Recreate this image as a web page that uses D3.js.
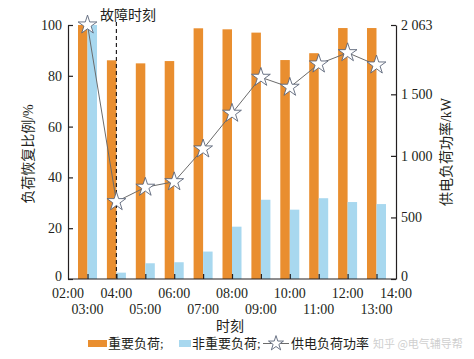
<!DOCTYPE html>
<html><head><meta charset="utf-8">
<script src="https://cdn.jsdelivr.net/npm/d3@7"></script>
<style>
html,body{margin:0;padding:0;background:#fff;}
text{font-family:"Liberation Serif","Noto Sans CJK SC",serif;fill:#231f20;}
</style></head>
<body><svg id="c" width="474" height="359"></svg>
<script>
const categories = ["03:00","04:00","05:00","06:00","07:00","08:00","09:00","10:00","11:00","12:00","13:00"];
const importantPct = [100, 86.1, 84.9, 85.8, 98.7, 98.3, 97.0, 86.2, 88.9, 98.8, 98.8];
const nonImportantPct = [100, 2.5, 6.2, 6.6, 10.8, 20.6, 31.2, 27.3, 31.8, 30.3, 29.5];
const supplyPower = [2063, 628, 745, 790, 1056, 1346, 1638, 1557, 1746, 1838, 1738];
const edgeLabels = ["02:00", "14:00"];
const leftTicks = [0, 20, 40, 60, 80, 100];
const rightTicks = [0, 500, 1000, 1500, 2063];
const faultCategory = "04:00";

const svg = d3.select("#c");
const L = 68, R = 396, T = 25, B = 279;
const x = d3.scalePoint().domain(categories).range([L, R]).padding(0.675);
const yL = d3.scaleLinear().domain([0, 100]).range([B, T]);
const yR = d3.scaleLinear().domain([0, 2063]).range([B, T]);
const bw = 9.5;
const orange = "#E98E2F", blue = "#A8D8EF";

// bars
svg.append("g").selectAll("rect").data(categories).join("rect")
  .attr("x", d => x(d) - bw).attr("width", bw)
  .attr("y", (d, i) => yL(importantPct[i])).attr("height", (d, i) => B - yL(importantPct[i]))
  .attr("fill", orange);
svg.append("g").selectAll("rect").data(categories).join("rect")
  .attr("x", d => x(d)).attr("width", bw)
  .attr("y", (d, i) => yL(nonImportantPct[i])).attr("height", (d, i) => B - yL(nonImportantPct[i]))
  .attr("fill", blue);

// axes
const fmtR = d => d >= 1000 ? String(d).replace(/(\d)(\d{3})$/, "$1 $2") : String(d);
const gL = svg.append("g").attr("transform", `translate(${L},0)`)
  .call(d3.axisLeft(yL).tickValues(leftTicks).tickSizeInner(-5).tickSizeOuter(0).tickPadding(6));
const gR = svg.append("g").attr("transform", `translate(${R},0)`)
  .call(d3.axisRight(yR).tickValues(rightTicks).tickSizeInner(-5).tickSizeOuter(0).tickPadding(5).tickFormat(fmtR));
const gB = svg.append("g").attr("transform", `translate(0,${B})`)
  .call(d3.axisBottom(x).tickSizeInner(-5).tickSizeOuter(0).tickFormat(""));
[gL, gR, gB].forEach(g => {
  g.selectAll("path.domain").attr("stroke", "#231f20").attr("stroke-width", 1.2);
  g.selectAll(".tick line").attr("stroke", "#231f20").attr("stroke-width", 1.2);
  g.selectAll(".tick text").attr("font-size", 14).attr("fill", "#231f20")
    .style("font-family", '"Liberation Serif",serif');
});
gB.select("path.domain").attr("d", `M${L},0H${R}`);
gL.selectAll(".tick text").filter(d => d === 0).attr("dy", "0.1em");
gR.selectAll(".tick text").filter(d => d === 0).attr("dy", "0.1em");

// x tick labels (staggered)
const bl = svg.append("g").attr("font-size", 14).attr("text-anchor", "middle");
bl.append("text").attr("x", L).attr("y", 298).text(edgeLabels[0]);
bl.append("text").attr("x", R).attr("y", 298).text(edgeLabels[1]);
categories.forEach((c, i) => {
  bl.append("text").attr("x", x(c)).attr("y", i % 2 === 0 ? 314 : 298).text(c);
});

// fault line
svg.append("line").attr("x1", x(faultCategory)).attr("x2", x(faultCategory))
  .attr("y1", 22).attr("y2", B).attr("stroke", "#231f20").attr("stroke-width", 1.2)
  .attr("stroke-dasharray", "4,3");
svg.append("text").attr("x", 128).attr("y", 20).attr("text-anchor", "middle")
  .attr("font-size", 14).text("故障时刻");

// power line
const line = d3.line().x((d, i) => x(categories[i])).y(d => yR(d));
svg.append("path").datum(supplyPower).attr("d", line)
  .attr("fill", "none").attr("stroke", "#6b6b6b").attr("stroke-width", 1);
const star = d3.symbol().type(d3.symbolStar).size(110);
svg.append("g").selectAll("path").data(supplyPower).join("path")
  .attr("transform", (d, i) => `translate(${x(categories[i])},${yR(d)})`)
  .attr("d", star).attr("fill", "#fff").attr("stroke", "#5a6478").attr("stroke-width", 0.9);

// axis titles
svg.append("text").attr("transform", "translate(33,154) rotate(-90)")
  .attr("text-anchor", "middle").attr("font-size", 14).text("负荷恢复比例/%");
svg.append("text").attr("transform", "translate(451,152) rotate(-90)")
  .attr("text-anchor", "middle").attr("font-size", 14).text("供电负荷功率/kW");
svg.append("text").attr("x", 230).attr("y", 331).attr("text-anchor", "middle")
  .attr("font-size", 14).text("时刻");

// legend
const lg = svg.append("g").attr("font-size", 13);
lg.append("rect").attr("x", 88).attr("y", 340).attr("width", 19).attr("height", 7).attr("fill", orange);
lg.append("text").attr("x", 108).attr("y", 348).text("重要负荷;");
lg.append("rect").attr("x", 179).attr("y", 340).attr("width", 12).attr("height", 7).attr("fill", blue);
lg.append("text").attr("x", 192).attr("y", 348).text("非重要负荷;");
lg.append("line").attr("x1", 263).attr("x2", 289).attr("y1", 343.5).attr("y2", 343.5)
  .attr("stroke", "#6b6b6b").attr("stroke-width", 1);
lg.append("path").attr("transform", "translate(276,343.5)")
  .attr("d", d3.symbol().type(d3.symbolStar).size(70)).attr("fill", "#fff")
  .attr("stroke", "#5a6478").attr("stroke-width", 0.9);
lg.append("text").attr("x", 291).attr("y", 348).text("供电负荷功率");

// watermark
svg.append("text").attr("x", 373).attr("y", 348).attr("font-size", 11)
  .style("font-family", '"Noto Sans CJK SC",sans-serif').style("fill", "#cfcfcf")
  .text("知乎 @电气辅导帮");
</script></body></html>
